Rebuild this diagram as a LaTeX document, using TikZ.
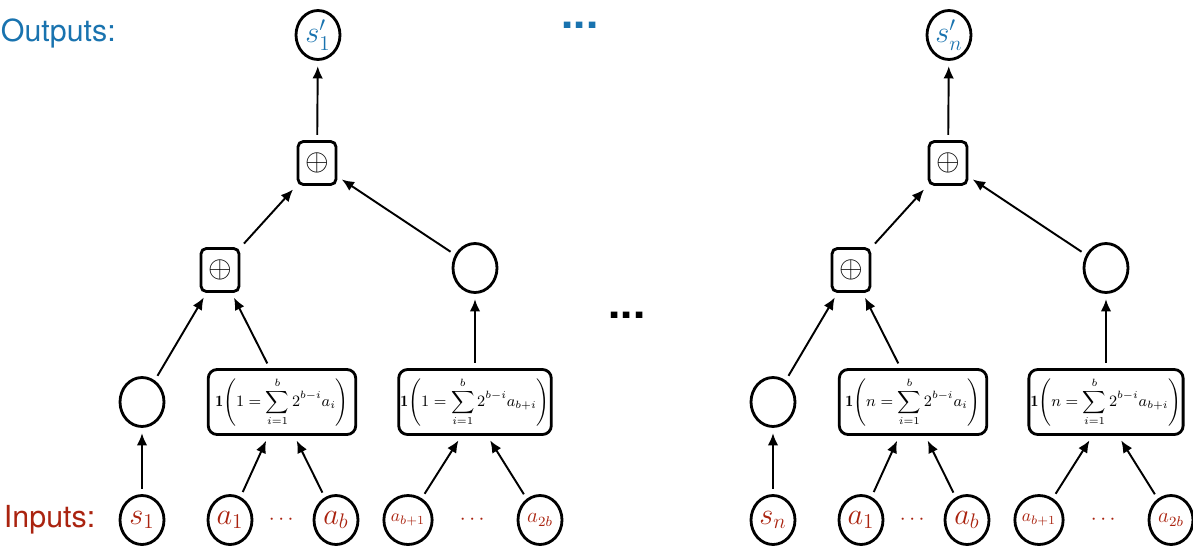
\documentclass[tikz,border=0pt]{standalone}
\usepackage{amsmath,amssymb}
\usepackage{fontspec}
\setsansfont{TeX Gyre Heros}
\usetikzlibrary{arrows.meta, positioning, calc, shapes.geometric}
\definecolor{inred}{RGB}{170,35,15}
\definecolor{outblue}{RGB}{25,115,175}
\begin{document}
\begin{tikzpicture}[
    x=0.02cm, y=-0.02cm,
    >={Latex[length=7pt,width=6pt]},
    line width=1.1pt,
    circ/.style={ellipse, draw, line width=1.6pt, minimum width=0.88cm, minimum height=0.98cm, inner sep=0pt, font=\LARGE},
    opbox/.style={rectangle, draw, line width=1.6pt, rounded corners=3pt, minimum width=0.76cm, minimum height=0.86cm, font=\LARGE},
    indbox/.style={rectangle, draw, line width=1.6pt, rounded corners=5pt, minimum width=2.95cm, minimum height=1.3cm, inner sep=1pt, font=\small},
    arr/.style={->, shorten <=3pt, shorten >=3pt},
    lbl/.style={font=\sffamily\LARGE, anchor=west, inner sep=0pt},
    bigdots/.style={font=\sffamily\bfseries\Huge}
]
\useasboundingbox (0,0) rectangle (1193,548);

% ----------------------
% Labels
% ----------------------
\node[lbl, text=outblue] (outlbl) at (0,33) {Outputs:};
\node[lbl, text=inred] (inlbl) at (3,520) {Inputs:};
\node[bigdots, text=outblue] (odots) at (580,25) {...};
\node[bigdots] (mdots) at (627,315) {...};

% ----------------------
% Trees (first and n-th)
% ----------------------
\foreach \dx/\k/\sv in {0/1/1, 631/n/n}{
  \begin{scope}[xshift=\dx*0.02cm]
    \node[circ, text=outblue] (out\k) at (318,35) {$s'_{\sv}$};
    \node[opbox] (topop\k) at (317,163) {$\oplus$};
    \node[opbox] (midop\k) at (220,270) {$\oplus$};
    \node[circ] (midc\k) at (475,268) {};
    \node[circ] (lowc\k) at (142,402) {};
    \node[indbox] (boxa\k) at (282,402) {$\mathbf{1}\!\left(\sv=\displaystyle\sum_{i=1}^{b}2^{b-i}a_i\right)$};
    \node[indbox] (boxb\k) at (475,402) {$\mathbf{1}\!\left(\sv=\displaystyle\sum_{i=1}^{b}2^{b-i}a_{b+i}\right)$};
    % inputs
    \node[circ, text=inred] (s\k) at (142,520) {$s_{\sv}$};
    \node[circ, text=inred] (a1\k) at (230,520) {$a_1$};
    \node[circ, text=inred] (ab\k) at (336,520) {$a_b$};
    \node[circ, text=inred, font=\normalsize] (ab1\k) at (408,520) {$a_{b+1}$};
    \node[circ, text=inred, font=\large] (a2b\k) at (540,520) {$a_{2b}$};
    \node[text=inred, font=\large] (d1\k) at (283,520) {$\cdots$};
    \node[text=inred, font=\large] (d2\k) at (474,520) {$\cdots$};
    % arrows
    \draw[arr] (s\k) -- (lowc\k);
    \draw[arr] (a1\k) -- (boxa\k.-112);
    \draw[arr] (ab\k) -- (boxa\k.-70);
    \draw[arr] (ab1\k) -- (boxb\k.-112);
    \draw[arr] (a2b\k) -- (boxb\k.-70);
    \draw[arr] (lowc\k) -- (midop\k);
    \draw[arr] (boxa\k.110) -- (midop\k);
    \draw[arr] (boxb\k) -- (midc\k);
    \draw[arr] (midop\k) -- (topop\k);
    \draw[arr] (midc\k) -- (topop\k);
    \draw[arr] (topop\k) -- (out\k);
  \end{scope}
}
\end{tikzpicture}
\end{document}
